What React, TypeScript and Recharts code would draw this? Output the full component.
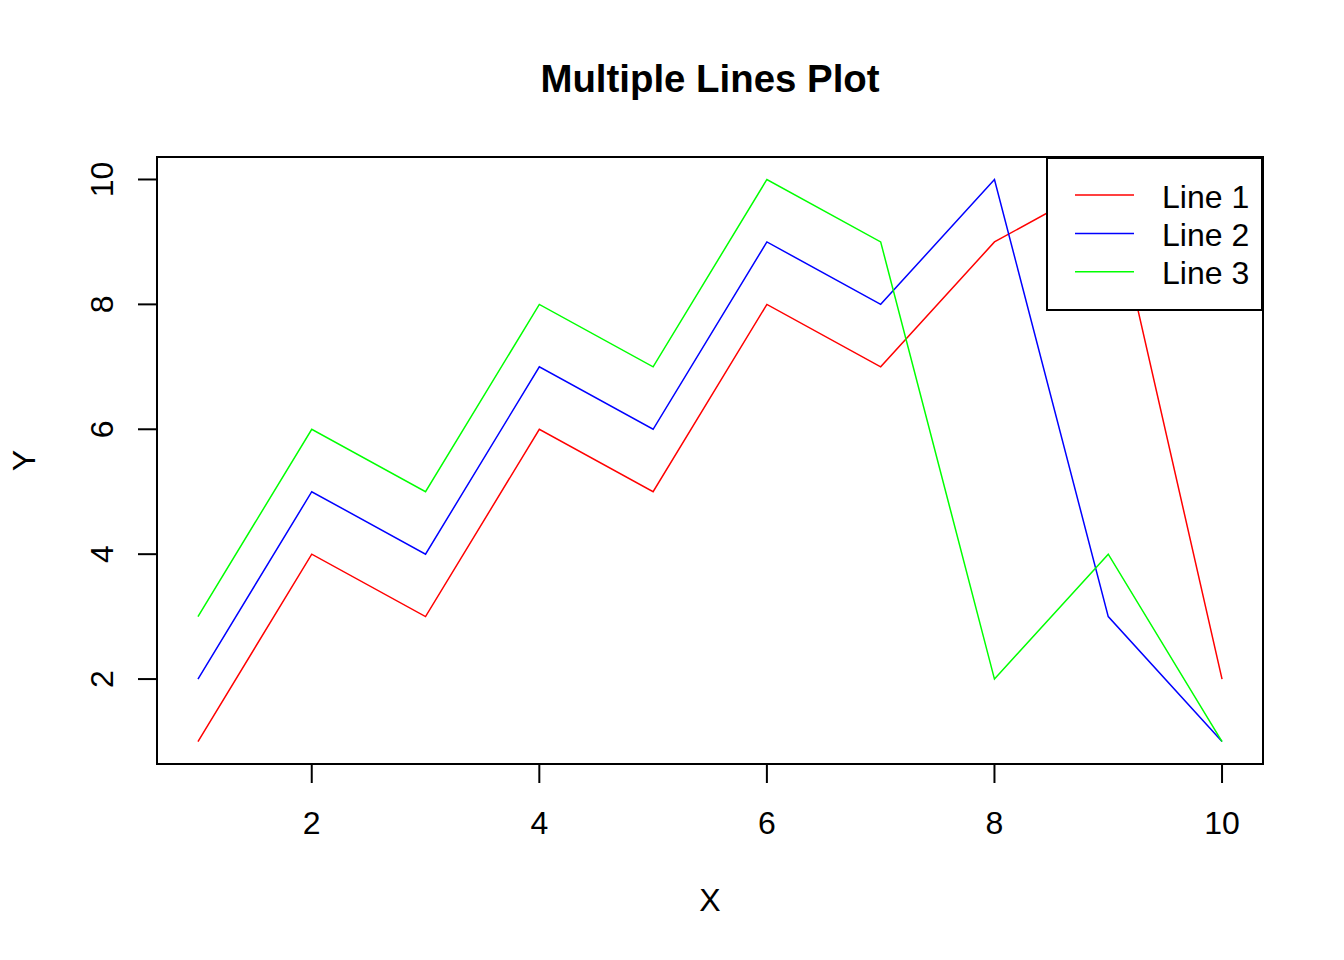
import React from "react";
import { LineChart, Line, XAxis, YAxis, ReferenceArea, Legend } from "recharts";

const xValues = [1, 2, 3, 4, 5, 6, 7, 8, 9, 10];
const line1 = [1, 4, 3, 6, 5, 8, 7, 9, 10, 2];
const line2 = [2, 5, 4, 7, 6, 9, 8, 10, 3, 1];
const line3 = [3, 6, 5, 8, 7, 10, 9, 2, 4, 1];
const xTicks = [2, 4, 6, 8, 10];
const yTicks = [2, 4, 6, 8, 10];
const seriesNames = ["Line 1", "Line 2", "Line 3"];
const seriesColors = ["#FF0000", "#0000FF", "#00FF00"];

const data = xValues.map((x, i) => ({ x, l1: line1[i], l2: line2[i], l3: line3[i] }));

const FONT = "'Liberation Sans', Arial, Helvetica, sans-serif";
const DOMAIN: [number, number] = [0.64, 10.36];

const XTick = (props: any) => {
  const { x, y, payload } = props;
  return (
    <text x={x} y={y + 51} textAnchor="middle" fontFamily={FONT} fontSize={32} fill="#000">
      {payload.value}
    </text>
  );
};

const YTick = (props: any) => {
  const { y, payload } = props;
  return (
    <text
      transform={`translate(113, ${y}) rotate(-90)`}
      textAnchor="middle"
      fontFamily={FONT}
      fontSize={32}
      fill="#000"
    >
      {payload.value}
    </text>
  );
};

const LegendBox = () => (
  <svg width={217} height={154} style={{ display: "block" }}>
    <rect x={1} y={1} width={215} height={152} fill="#fff" stroke="#000" strokeWidth={2} />
    {seriesNames.map((name, i) => (
      <g key={name}>
        <line x1={29} x2={88} y1={38 + i * 38.4} y2={38 + i * 38.4} stroke={seriesColors[i]} strokeWidth={1.5} />
        <text x={116} y={50.5 + i * 38.4} fontFamily={FONT} fontSize={32} fill="#000">
          {name}
        </text>
      </g>
    ))}
  </svg>
);

export default function App() {
  return (
    <div style={{ position: "absolute", left: 0, top: 0, width: 1344, height: 960, background: "#fff" }}>
      <LineChart
        width={1344}
        height={960}
        data={data}
        margin={{ top: 157, right: 81, left: 97, bottom: 136 }}
      >
        <XAxis
          dataKey="x"
          type="number"
          domain={DOMAIN}
          ticks={xTicks}
          allowDataOverflow
          axisLine={false}
          tickLine={{ stroke: "#000", strokeWidth: 2 }}
          tickSize={19}
          tickMargin={0}
          height={60}
          tick={<XTick />}
        />
        <YAxis
          type="number"
          domain={DOMAIN}
          ticks={yTicks}
          allowDataOverflow
          axisLine={false}
          tickLine={{ stroke: "#000", strokeWidth: 2 }}
          tickSize={19}
          tickMargin={0}
          width={60}
          tick={<YTick />}
        />
        <Line type="linear" dataKey="l1" name="Line 1" stroke={seriesColors[0]} strokeWidth={1.5} dot={false} isAnimationActive={false} />
        <Line type="linear" dataKey="l2" name="Line 2" stroke={seriesColors[1]} strokeWidth={1.5} dot={false} isAnimationActive={false} />
        <Line type="linear" dataKey="l3" name="Line 3" stroke={seriesColors[2]} strokeWidth={1.5} dot={false} isAnimationActive={false} />
        <ReferenceArea x1={DOMAIN[0]} x2={DOMAIN[1]} y1={DOMAIN[0]} y2={DOMAIN[1]} fill="none" fillOpacity={0} stroke="#000" strokeWidth={2} ifOverflow="visible" />
        <Legend
          layout="vertical"
          align="center"
          verticalAlign="middle"
          content={<LegendBox />}
          wrapperStyle={{ left: 1046, top: 157, width: 217, height: 154 }}
        />
        <text x={710} y={92} textAnchor="middle" fontFamily={FONT} fontSize={38.4} fontWeight="bold" fill="#000">
          Multiple Lines Plot
        </text>
        <text x={710} y={911} textAnchor="middle" fontFamily={FONT} fontSize={32} fill="#000">
          X
        </text>
        <text transform="translate(35, 460.5) rotate(-90)" textAnchor="middle" fontFamily={FONT} fontSize={32} fill="#000">
          Y
        </text>
      </LineChart>
    </div>
  );
}
